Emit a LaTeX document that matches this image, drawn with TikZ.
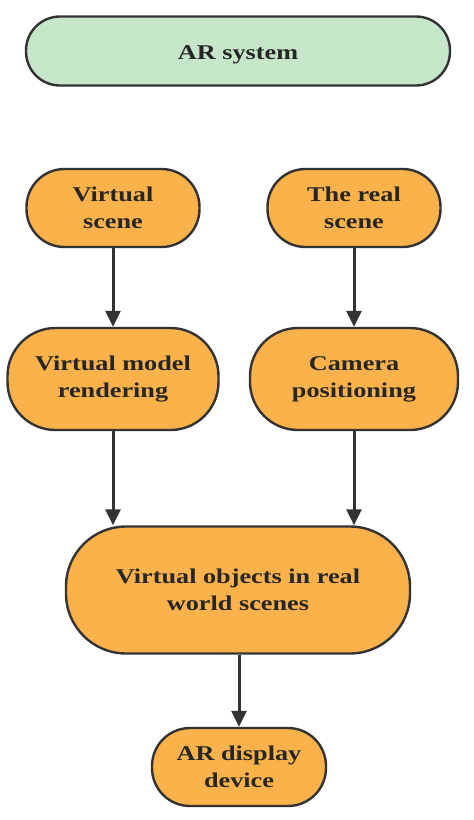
\documentclass[tikz,border=0pt]{standalone}
\usepackage{fontspec}
\setmainfont{Liberation Serif}[FakeStretch=1.25]
\usetikzlibrary{arrows.meta}
\definecolor{boxgreen}{RGB}{198,230,202}
\definecolor{boxorange}{RGB}{251,178,74}
\definecolor{edgegray}{RGB}{51,51,51}
\tikzset{
  pill/.style={draw=edgegray, line width=2.4pt, fill=boxorange, inner sep=0pt,
    align=center, font=\fontsize{21}{27}\selectfont\bfseries, text=black!85},
  flow/.style={draw=edgegray, line width=3pt, -{Triangle[length=16pt,width=15pt]}}
}
\begin{document}
\begin{tikzpicture}[x=1pt,y=-1pt]
\useasboundingbox (0,0) rectangle (474,820);
\node[pill, fill=boxgreen, minimum width=424pt, minimum height=69pt, rounded corners=34pt] (ar) at (238,51) {\raisebox{-4pt}[\height][\depth]{AR system}};
\node[pill, minimum width=173pt, minimum height=78pt, rounded corners=38pt] (vs) at (113,208) {Virtual\\scene};
\node[pill, minimum width=173pt, minimum height=78pt, rounded corners=38pt] (rs) at (354,208) {The real\\scene};
\node[pill, minimum width=211pt, minimum height=102pt, rounded corners=48pt] (vm) at (113,379) {Virtual model\\rendering};
\node[pill, minimum width=208pt, minimum height=102pt, rounded corners=48pt] (cp) at (354,379) {Camera\\positioning};
\node[pill, minimum width=344pt, minimum height=127pt, rounded corners=60pt] (vo) at (238,590) {Virtual objects in real\\world scenes};
\node[pill, minimum width=174pt, minimum height=78pt, rounded corners=38pt] (ad) at (239,767) {AR display\\device};
\draw[flow] (vs.south) -- (vm.north);
\draw[flow] (rs.south) -- (cp.north);
\draw[flow] (vm.south) -- (vm.south |- vo.north);
\draw[flow] (cp.south) -- (cp.south |- vo.north);
\draw[flow] (vo.south -| ad.north) -- (ad.north);
\end{tikzpicture}
\end{document}
